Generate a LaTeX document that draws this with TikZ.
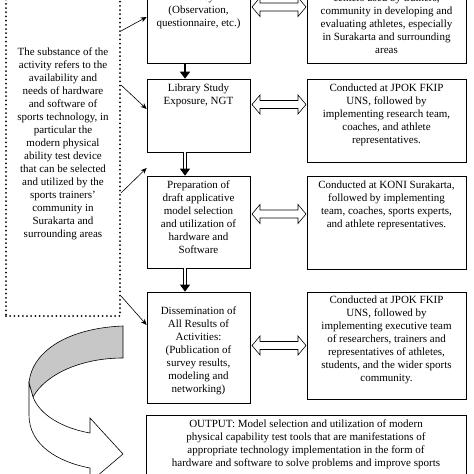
\documentclass[tikz,border=0pt]{standalone}
\usepackage{fontspec}
\setmainfont{Liberation Serif}
\usetikzlibrary{arrows.meta}

\begin{document}
\begin{tikzpicture}[x=1pt,y=-1pt]
  \tikzset{
  b/.style={draw,line width=0.7pt,inner sep=0pt},
  t/.style={align=center,inner sep=0pt,anchor=north,font=\fontsize{11}{13}\selectfont},
  dots/.style={draw,line width=2pt,line cap=round,dash pattern=on 0pt off 4.2pt,inner sep=0pt},
  dba/.style={draw,line width=0.6pt,line join=miter},
  thin/.style={line width=0.6pt,-{Stealth[length=6pt,width=5pt]}},
  down/.style={line width=2.6pt,-{Triangle[length=7pt,width=10pt]}},
  ddown/.style={double,double distance=1.4pt,line width=0.9pt,-{Triangle[length=7pt,width=10pt]}},
  }
  \path[use as bounding box,clip] (0,0) rectangle (474,474);

  % the boxes
  \node[dots,minimum width=114pt,minimum height=376pt] (sub) at (63,128) {};
  \node[b,minimum width=103pt,minimum height=123pt] (svy) at (198.5,1.5) {};
  \node[b,minimum width=103pt,minimum height=73pt] (lib) at (198.5,115.5) {};
  \node[b,minimum width=103pt,minimum height=92pt] (prep) at (198.5,222) {};
  \node[b,minimum width=103pt,minimum height=111pt] (dis) at (198.5,347.5) {};

  \node[b,minimum width=159pt,minimum height=123pt] (r1) at (386.5,1.5) {};
  \node[b,minimum width=159pt,minimum height=83pt] (r2) at (386.5,120.5) {};
  \node[b,minimum width=159pt,minimum height=93pt] (r3) at (386.5,222.5) {};
  \node[b,minimum width=159pt,minimum height=107pt] (r4) at (386.5,345.5) {};
  \node[b,minimum width=320pt,minimum height=115pt] (out) at (306,472.5) {};

  % the texts
  \node[t] at (63,48) {The substance of the\\ activity refers to the\\ availability and\\
    needs of hardware\\ and software of\\ sports technology, in\\ particular the\\
    modern physical\\ ability test device\\ that can be selected\\ and utilized by the\\
    sports trainers'\\ community in\\ Surakarta and\\ surrounding areas};
  \node[t] at (198.5,-7) {Survey\\ (Observation,\\ questionnaire, etc.)};
  \node[t] at (198.5,84) {Library Study\\ Exposure, NGT};
  \node[t] at (198.5,181) {Preparation of\\ draft applicative\\ model selection\\
    and utilization of\\ hardware and\\ Software};
  \node[t] at (198.5,307) {Dissemination of\\ All Results of\\ Activities:\\
    (Publication of\\ survey results,\\ modeling and\\ networking)};
  \node[t] at (386.5,-6) {centers used by trainers,\\ community in developing and\\
    evaluating athletes, especially\\ in Surakarta and surrounding\\ areas};
  \node[t] at (386.5,84) {Conducted at JPOK FKIP\\ UNS, followed by\\
    implementing research team,\\ coaches, and athlete\\ representatives.};
  \node[t] at (386.5,181) {Conducted at KONI Surakarta,\\ followed by implementing\\
    team, coaches, sports experts,\\ and athlete representatives.};
  \node[t] at (386.5,296) {Conducted at JPOK FKIP\\ UNS, followed by\\
    implementing executive team\\ of researchers, trainers and\\
    representatives of athletes,\\ students, and the wider sports\\ community.};
  \node[t] at (306,420) {OUTPUT: Model selection and utilization of modern\\
    physical capability test tools that are manifestations of\\
    appropriate technology implementation in the form of\\
    hardware and software to solve problems and improve sports};

  % the double arrows between the columns
  \foreach \y in {7,104.5,214,345.5}
    \draw[dba] (252,\y) -- ++(8,-9.5) -- ++(0,5.5) -- ++(38,0) -- ++(0,-5.5) -- ++(8,9.5)
      -- ++(-8,9.5) -- ++(0,-5.5) -- ++(-38,0) -- ++(0,5.5) -- cycle;

  % the connection between the boxes
  \draw[down] (svy.south -| 185,0) -- (lib.north -| 185,0);
  \draw[ddown] (lib.south -| 185,0) -- (prep.north -| 185,0);
  \draw[ddown] (prep.south -| 185,0) -- (dis.north -| 185,0);

  \draw[thin] (sub.east |- 0,31) -- (svy.west |- 0,17);
  \draw[thin] (sub.east |- 0,85) -- (lib.west |- 0,109);
  \draw[thin] (sub.east |- 0,193) -- (prep.west |- 0,168);
  \draw[thin] (sub.east |- 0,296) -- (dis.west |- 0,325);

  % the curved arrow
  \draw[line width=0.6pt,fill=black!22] (123,326) .. controls (70,328) and (32,350) .. (29,383)
    -- (33,397) .. controls (45,375) and (80,358) .. (123,358) -- cycle;
  \draw[line width=0.6pt,fill=white] (29,383) -- (29,415) .. controls (29,445) and (58,462) .. (90,468)
    -- (90,482) -- (123,454) -- (90,418) -- (90,433) .. controls (62,428) and (40,415) .. (33,397) -- cycle;
\end{tikzpicture}
\end{document}
